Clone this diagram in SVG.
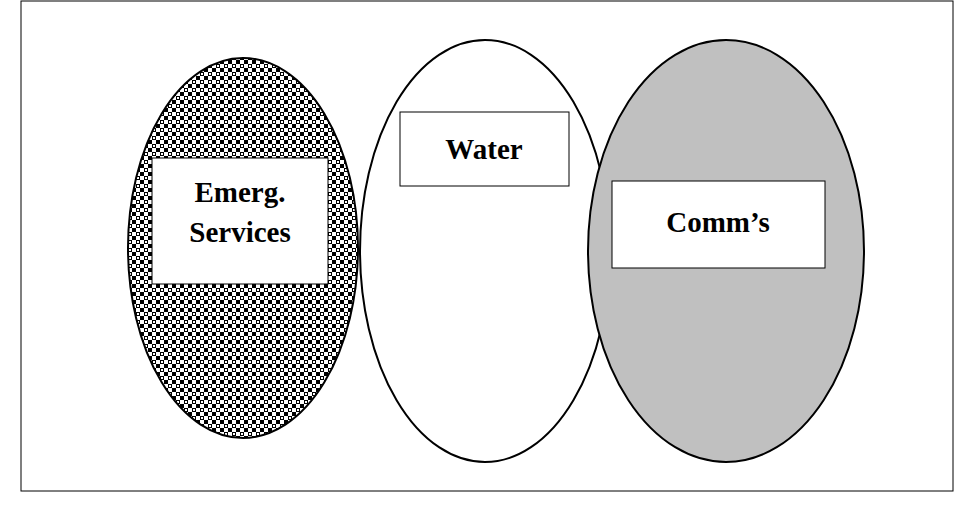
<svg xmlns="http://www.w3.org/2000/svg" width="974" height="516" viewBox="0 0 974 516">
<defs>
<pattern id="chk" width="8" height="8" patternUnits="userSpaceOnUse">
<rect width="8" height="8" fill="#fff"/>
<rect x="0" y="0" width="4" height="4" fill="#000"/>
<rect x="4" y="4" width="4" height="4" fill="#000"/>
<rect x="1" y="1" width="2" height="2" fill="#fff"/>
</pattern>
</defs>
<style>
.e{stroke:#000;stroke-width:2}
.b{fill:#fff;stroke:#000;stroke-width:1}
.t{font-family:"Liberation Serif","Times New Roman",serif;font-weight:bold;font-size:29px;text-anchor:middle}
</style>
<rect x="21" y="1" width="932" height="490" fill="#fff" stroke="#000" stroke-width="1"/>
<g id="connectors"/>
<g id="emerg">
<ellipse class="e" cx="243" cy="248" rx="115" ry="190" fill="url(#chk)"/>
<rect class="b" x="152" y="158" width="176" height="126"/>
<text class="t" x="240" y="202">Emerg.</text>
<text class="t" x="240" y="242">Services</text>
</g>
<g id="water">
<ellipse class="e" cx="485" cy="251" rx="125" ry="211" fill="#fff"/>
<rect class="b" x="400" y="112" width="169" height="74"/>
<text class="t" x="484" y="159">Water</text>
</g>
<g id="comms">
<ellipse class="e" cx="726" cy="251" rx="138" ry="211" fill="#c0c0c0"/>
<rect class="b" x="612" y="181" width="213" height="87"/>
<text class="t" x="718" y="232">Comm’s</text>
</g>
</svg>
